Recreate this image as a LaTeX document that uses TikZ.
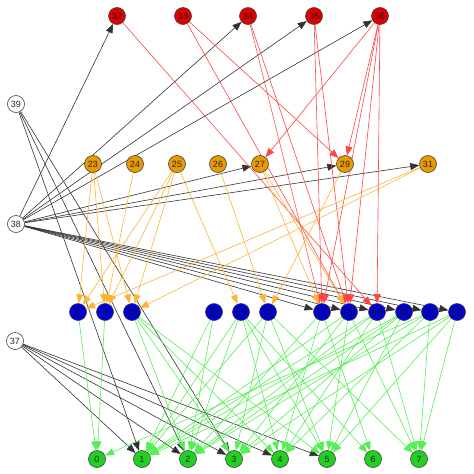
\documentclass[tikz,border=0pt]{standalone}
\usepackage{fontspec}
\setmainfont{Liberation Sans}
\usepackage{xcolor}
\usepackage{tikz}
\usetikzlibrary{arrows.meta,backgrounds}
\definecolor{topred}{HTML}{E00000}
\definecolor{midorange}{HTML}{E99A00}
\definecolor{rowblue}{HTML}{0000D0}
\definecolor{leafgreen}{HTML}{22D022}
\definecolor{linered}{HTML}{FF4545}
\definecolor{lineorange}{HTML}{FFB235}
\definecolor{linegreen}{HTML}{55EE55}
\definecolor{lineblack}{HTML}{333333}

\begin{document}
\begin{tikzpicture}[x=1pt,y=-1pt,>={Triangle[length=9pt,width=7pt]}]
  \tikzstyle{vtx}=[circle,draw=black!75,line width=0.6pt,minimum size=17pt,inner sep=0pt,font=\fontsize{9}{9}\selectfont]
  \tikzstyle{src}=[vtx,fill=white,text=black!85]
  \tikzstyle{hub}=[vtx,fill=topred,text=black!90]
  \tikzstyle{mid}=[vtx,fill=midorange,text=black!85]
  \tikzstyle{row}=[vtx,fill=rowblue,text=black!90]
  \tikzstyle{sink}=[vtx,fill=leafgreen,text=black!85]
  \useasboundingbox (0,0) rectangle (474,474);
  % top row
  \node[hub] (n32) at (117,16) {32};
  \node[hub] (n33) at (183,16) {33};
  \node[hub] (n34) at (248,16) {34};
  \node[hub] (n35) at (314,16) {35};
  \node[hub] (n36) at (380,16) {36};
  % left column
  \node[src] (n39) at (16,104) {39};
  \node[src] (n38) at (16,224) {38};
  \node[src] (n37) at (15,341) {37};
  % second row
  \node[mid] (n23) at (93,164) {23};
  \node[mid] (n24) at (135,164) {24};
  \node[mid] (n25) at (177,164) {25};
  \node[mid] (n26) at (218,164) {26};
  \node[mid] (n27) at (260,164) {27};
  \node[mid] (n29) at (345,164) {29};
  \node[mid] (n31) at (428,164) {31};
  % third row
  \node[row] (n8) at (78,312) {8};
  \node[row] (n9) at (105,312) {9};
  \node[row] (n10) at (132,312) {10};
  \node[row] (n13) at (214,312) {13};
  \node[row] (n14) at (241,312) {14};
  \node[row] (n15) at (268,312) {15};
  \node[row] (n17) at (322,312) {17};
  \node[row] (n18) at (349,312) {18};
  \node[row] (n19) at (377,312) {19};
  \node[row] (n20) at (404,312) {20};
  \node[row] (n21) at (430,312) {21};
  \node[row] (n22) at (457,312) {22};
  % bottom row
  \node[sink] (n0) at (97,459) {0};
  \node[sink] (n1) at (142,459) {1};
  \node[sink] (n2) at (188,459) {2};
  \node[sink] (n3) at (234,459) {3};
  \node[sink] (n4) at (280,459) {4};
  \node[sink] (n5) at (327,459) {5};
  \node[sink] (n6) at (373,459) {6};
  \node[sink] (n7) at (419,459) {7};
  \begin{scope}[on background layer]
    % black
    \draw[->,lineblack,line width=0.6pt] (n38) edge (n32) edge (n34) edge (n35) edge (n36)
      edge (n27) edge (n29) edge (n31)
      edge (n17) edge (n18) edge (n19) edge (n20) edge (n21) edge (n22);
    \draw[->,lineblack,line width=0.6pt] (n39) edge (n1) edge (n2) edge (n3);
    \draw[->,lineblack,line width=0.6pt] (n37) edge (n1) edge (n2) edge (n3) edge (n4) edge (n5);
    % red
    \draw[->,linered,line width=0.6pt] (n32) edge (n19);
    \draw[->,linered,line width=0.6pt] (n33) edge (n29) edge (n18);
    \draw[->,linered,line width=0.6pt] (n34) edge (n17) edge (n18);
    \draw[->,linered,line width=0.6pt] (n35) edge (n17) edge (n18);
    \draw[->,linered,line width=0.6pt] (n36) edge (n27) edge (n29) edge (n17) edge (n18) edge (n19);
    % orange
    \draw[->,lineorange,line width=0.6pt] (n23) edge (n8) edge (n9) edge (n10);
    \draw[->,lineorange,line width=0.6pt] (n24) edge (n9);
    \draw[->,lineorange,line width=0.6pt] (n25) edge (n8) edge (n9) edge (n10) edge (n14);
    \draw[->,lineorange,line width=0.6pt] (n26) edge (n15);
    \draw[->,lineorange,line width=0.6pt] (n27) edge (n17) edge (n18);
    \draw[->,lineorange,line width=0.6pt] (n29) edge (n15);
    \draw[->,lineorange,line width=0.6pt] (n31) edge (n8) edge (n10);
    % green
    \draw[->,linegreen,line width=0.6pt] (n8) edge (n0);
    \draw[->,linegreen,line width=0.6pt] (n9) edge (n0);
    \draw[->,linegreen,line width=0.6pt] (n10) edge (n2) edge (n3) edge (n4) edge (n5);
    \draw[->,linegreen,line width=0.6pt] (n13) edge (n1) edge (n2);
    \draw[->,linegreen,line width=0.6pt] (n14) edge (n1) edge (n2) edge (n4) edge (n5) edge (n6);
    \draw[->,linegreen,line width=0.6pt] (n15) edge (n1) edge (n3) edge (n5) edge (n7);
    \draw[->,linegreen,line width=0.6pt] (n17) edge (n2) edge (n4) edge (n6);
    \draw[->,linegreen,line width=0.6pt] (n18) edge (n1) edge (n3) edge (n5) edge (n7);
    \draw[->,linegreen,line width=0.6pt] (n19) edge (n1) edge (n2) edge (n4) edge (n7);
    \draw[->,linegreen,line width=0.6pt] (n20) edge (n1) edge (n2) edge (n3) edge (n5);
    \draw[->,linegreen,line width=0.6pt] (n21) edge (n0) edge (n2) edge (n4) edge (n7);
    \draw[->,linegreen,line width=0.6pt] (n22) edge (n1) edge (n3) edge (n5) edge (n7);
  \end{scope}
\end{tikzpicture}
\end{document}
